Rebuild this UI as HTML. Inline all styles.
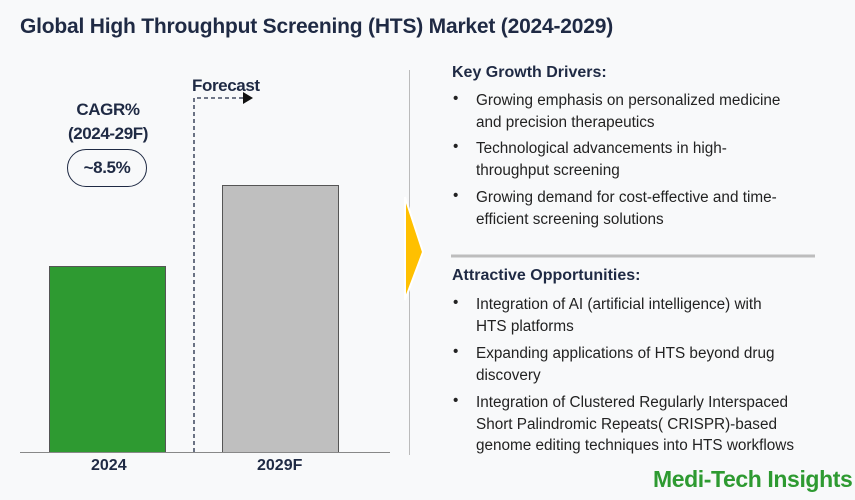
<!DOCTYPE html>
<html><head><style>
body{margin:0;width:855px;height:500px;background:#f8f9fa;font-family:"Liberation Sans",Arial,sans-serif;color:#1f2a44;position:relative;overflow:hidden}
.a{position:absolute;white-space:nowrap}
.t{font-size:15.3px;color:#222}
.b{font-weight:bold}
</style></head><body>
<div class="a b" style="left:20px;top:15px;font-size:21px;letter-spacing:-0.2px;color:#1f2a44">Global High Throughput Screening (HTS) Market (2024-2029)</div>
<div class="a b" style="left:60px;top:98px;width:96px;text-align:center;font-size:17px;line-height:24px;letter-spacing:-0.4px">CAGR%<br>(2024-29F)</div>
<div class="a b" style="left:67px;top:149px;width:78px;height:36px;border:1.5px solid #1f2a44;border-radius:19px;text-align:center;line-height:36px;font-size:17px;letter-spacing:-0.4px">~8.5%</div>
<div class="a b" style="left:192px;top:76px;font-size:17px;letter-spacing:-0.4px">Forecast</div>
<svg class="a" style="left:0;top:0" width="855" height="500">
<path d="M194 452 V98 H244" stroke="#1f2a44" stroke-width="1.3" stroke-dasharray="4,3" fill="none"/>
<polygon points="243,92 253,98 243,104" fill="#111"/>
<rect x="49.5" y="266.5" width="116" height="186" fill="#2e9a31" stroke="#555" stroke-width="1"/>
<rect x="222.5" y="185.5" width="116" height="267" fill="#bfbfbf" stroke="#555" stroke-width="1"/>
<line x1="20" y1="452.5" x2="390" y2="452.5" stroke="#888" stroke-width="1"/>
<line x1="409.5" y1="70" x2="409.5" y2="455" stroke="#bbb" stroke-width="1"/>
<polygon points="405,197 423,252 405,300" fill="#ffc000" stroke="#fff" stroke-width="2"/>
<line x1="451" y1="256" x2="815" y2="256" stroke="#bdbdbd" stroke-width="3"/>
</svg>
<div class="a b" style="left:91px;top:457px;font-size:16px;color:#1f2a44">2024</div>
<div class="a b" style="left:257px;top:457px;font-size:16px;color:#1f2a44">2029F</div>
<div class="a b" style="left:452px;top:64px;font-size:16px;color:#1f2a44">Key Growth Drivers:</div>
<div class="a b" style="left:452px;top:267px;font-size:16px;color:#1f2a44">Attractive Opportunities:</div>
<div class="a t" style="left:453px;top:90px">•</div>
<div class="a t" style="left:476px;top:90px;line-height:21.5px">Growing emphasis on personalized medicine<br>and precision therapeutics</div>
<div class="a t" style="left:453px;top:138px">•</div>
<div class="a t" style="left:476px;top:138px;line-height:21.5px">Technological advancements in high-<br>throughput screening</div>
<div class="a t" style="left:453px;top:187px">•</div>
<div class="a t" style="left:476px;top:187px;line-height:21.5px">Growing demand for cost-effective and time-<br>efficient screening solutions</div>
<div class="a t" style="left:453px;top:294px">•</div>
<div class="a t" style="left:476px;top:294px;line-height:21.5px">Integration of AI (artificial intelligence) with<br>HTS platforms</div>
<div class="a t" style="left:453px;top:343px">•</div>
<div class="a t" style="left:476px;top:343px;line-height:21.5px">Expanding applications of HTS beyond drug<br>discovery</div>
<div class="a t" style="left:453px;top:392px">•</div>
<div class="a t" style="left:476px;top:392px;line-height:21.5px">Integration of Clustered Regularly Interspaced<br>Short Palindromic Repeats( CRISPR)-based<br>genome editing techniques into HTS workflows</div>
<div class="a b" style="left:653px;top:466px;font-size:23px;color:#2e9a31;letter-spacing:-0.4px">Medi-Tech Insights</div>
</body></html>
